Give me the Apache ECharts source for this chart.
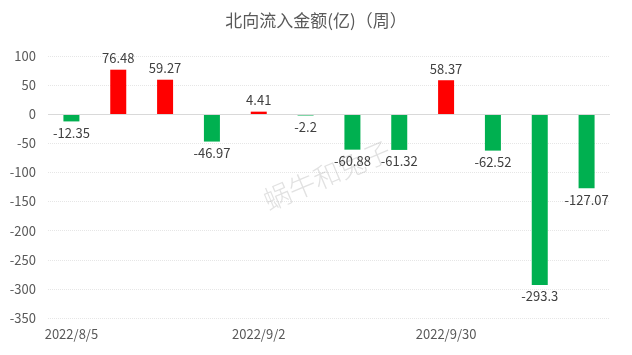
<!DOCTYPE html>
<html><head><meta charset="utf-8">
<script src="https://cdn.jsdelivr.net/npm/echarts@6/dist/echarts.min.js"></script>
<style>html,body{margin:0;padding:0;background:#fff}#c{width:632px;height:355px}</style>
</head><body><div id="c"></div>
<script>
const categories = ['2022/8/5','2022/8/12','2022/8/19','2022/8/26','2022/9/2','2022/9/9','2022/9/16','2022/9/23','2022/9/30','2022/10/14','2022/10/21','2022/10/28'];
const values = [-12.35, 76.48, 59.27, -46.97, 4.41, -2.2, -60.88, -61.32, 58.37, -62.52, -293.3, -127.07];
const yTicks = [100, 50, 0, -50, -100, -150, -200, -250, -300, -350];

const chart = echarts.init(document.getElementById('c'));
const font = '"Noto Sans CJK SC", "Noto Sans", sans-serif';
chart.setOption({
  animation: false,
  title: {text: '北向流入金额(亿)（周）', left: 'center', top: 7,
    textStyle: {fontFamily: font, fontSize: 17, fontWeight: 'normal', color: '#595959'}},
  grid: {left: 48, right: 22, top: 56, bottom: 37},
  xAxis: {type: 'category', data: categories,
    axisLine: {show: false}, axisTick: {show: false},
    axisLabel: {interval: 3, color: '#595959', fontFamily: font, fontSize: 13, margin: 10}},
  yAxis: {type: 'value', min: yTicks[yTicks.length-1], max: yTicks[0], interval: 50,
    axisLine: {show: false}, axisTick: {show: false},
    axisLabel: {color: '#595959', fontFamily: font, fontSize: 13, margin: 12},
    splitLine: {lineStyle: {color: '#e6e6e6', type: 'dotted'}}},
  series: [{
    type: 'bar', barWidth: 16,
    data: values.map(v => ({value: v,
      itemStyle: {color: v >= 0 ? '#FF0000' : '#00B050'},
      label: {position: v >= 0 ? 'top' : 'bottom'}})),
    label: {show: true, color: '#404040', fontFamily: font, fontSize: 13, distance: 5},
    markLine: {symbol: 'none', silent: true, label: {show: false},
      lineStyle: {color: '#d9d9d9', type: 'solid', width: 1}, data: [{yAxis: 0}]}
  }],
  graphic: [{type: 'text', x: 270, y: 214, rotation: 0.40, z: 1,
    style: {text: '蜗牛和兔子', fontSize: 27, fontWeight: 300, fontFamily: font, fill: 'rgba(170,170,170,0.35)', textVerticalAlign: 'bottom'}}]
});
</script></body></html>
